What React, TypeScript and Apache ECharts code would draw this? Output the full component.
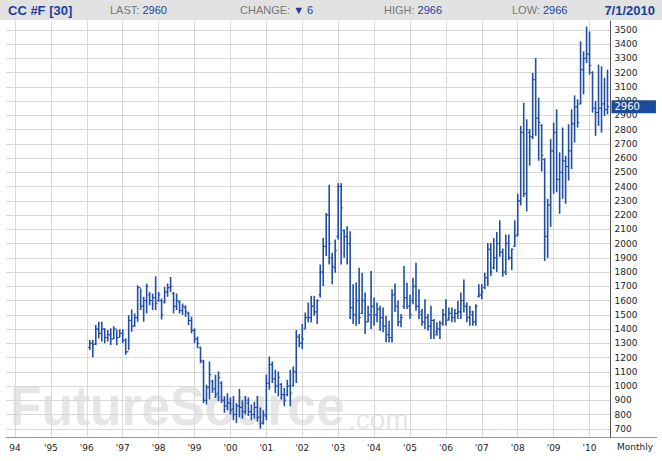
import React, { useEffect, useRef } from 'react';
import * as echarts from 'echarts';

// Monthly OHLC bars, first bar = Feb 1996 (month index counted from Jan 1994)
const firstYear = 1996;
const firstMonth = 2;
const baseYear = 1994;

const highs = [
  1323, 1323, 1428, 1451, 1451, 1405, 1393, 1405, 1420, 1393, 1398,
  1398, 1335, 1497, 1537, 1509, 1707, 1684, 1626, 1719, 1660, 1649, 1770,
  1660, 1614, 1695, 1719, 1765, 1660, 1649, 1602, 1579, 1567, 1521, 1486,
  1405, 1347, 1277, 1184, 1009, 1172, 1044, 1079, 1102, 1033, 928, 950,
  920, 930, 880, 980, 900, 930, 920, 870, 890, 930, 850, 830,
  1080, 1207, 1172, 1114, 1102, 1021, 986, 1044, 1114, 1137, 1393, 1365,
  1435, 1516, 1586, 1633, 1633, 1609, 1853, 2040, 2214, 2412, 1935, 2028,
  2423, 2423, 2098, 2121, 2086, 1714, 1726, 1830, 1795, 1656, 1563, 1807,
  1621, 1586, 1563, 1551, 1493, 1458, 1680, 1720, 1600, 1505, 1842, 1725,
  1643, 1760, 1865, 1679, 1540, 1609, 1505, 1563, 1470, 1447, 1458, 1540,
  1609, 1551, 1551, 1540, 1598, 1656, 1748, 1586, 1563, 1528, 1574, 1714,
  1714, 1795, 2004, 2004, 2039, 2080, 2163, 1965, 2063, 2063, 1965, 2163,
  2349, 2826, 2988, 2872, 2802, 3198, 3302, 3023, 2837, 2598, 2314, 2733,
  2849, 2942, 2640, 2814, 2616, 2837, 2942, 3040, 3012, 3419, 3349, 3523,
  3488, 3209, 3000, 3256, 3244, 3163, 3221,
];
const lows = [
  1254, 1202, 1288, 1335, 1312, 1300, 1312, 1288, 1328, 1288, 1342,
  1300, 1219, 1253, 1381, 1416, 1451, 1533, 1451, 1509, 1567, 1533, 1533,
  1591, 1467, 1579, 1626, 1660, 1509, 1533, 1509, 1498, 1486, 1428, 1370,
  1300, 1265, 1160, 881, 870, 905, 951, 916, 893, 881, 812, 830,
  800, 760, 740, 780, 770, 800, 790, 760, 770, 750, 700, 730,
  760, 974, 1021, 951, 928, 905, 858, 928, 858, 997, 1021, 1272,
  1260, 1400, 1447, 1447, 1493, 1435, 1621, 1702, 1912, 1853, 1714, 1795,
  2028, 1853, 1900, 1853, 1470, 1435, 1423, 1435, 1505, 1365, 1447, 1400,
  1423, 1447, 1388, 1377, 1307, 1307, 1305, 1520, 1420, 1412, 1540, 1540,
  1470, 1574, 1528, 1470, 1423, 1400, 1388, 1330, 1330, 1353, 1330, 1423,
  1423, 1458, 1447, 1447, 1470, 1470, 1516, 1447, 1423, 1423, 1423, 1621,
  1609, 1679, 1702, 1772, 1818, 1800, 1907, 1767, 1779, 1884, 1814, 1977,
  2050, 2267, 2326, 2226, 2547, 2733, 2756, 2581, 2505, 1877, 1900, 2116,
  2349, 2360, 2209, 2314, 2279, 2442, 2523, 2709, 2814, 2977, 3047, 3267,
  3186, 2919, 2756, 2826, 2779, 2895, 2907,
];
const opens = [
  1270, 1300, 1295, 1400, 1370, 1400, 1340, 1360, 1330, 1400, 1340,
  1370, 1320, 1240, 1460, 1420, 1480, 1690, 1560, 1600, 1640, 1600, 1620,
  1600, 1600, 1590, 1660, 1690, 1650, 1560, 1590, 1530, 1550, 1510, 1460,
  1390, 1330, 1270, 1170, 900, 990, 1030, 980, 950, 1020, 900, 860,
  880, 840, 800, 860, 850, 820, 880, 820, 800, 850, 780, 740,
  790, 1020, 1150, 1050, 1000, 1010, 940, 940, 1000, 1000, 1100, 1340,
  1300, 1400, 1480, 1480, 1560, 1520, 1640, 1800, 1980, 2200, 1900, 1830,
  2050, 2400, 2090, 2050, 2000, 1550, 1500, 1600, 1510, 1600, 1450, 1500,
  1560, 1500, 1540, 1480, 1420, 1360, 1340, 1640, 1560, 1450, 1560, 1620,
  1560, 1600, 1700, 1560, 1500, 1450, 1480, 1420, 1460, 1380, 1400, 1440,
  1500, 1470, 1510, 1480, 1510, 1520, 1600, 1560, 1480, 1500, 1450, 1630,
  1640, 1690, 1760, 1960, 1830, 1900, 2000, 1940, 1800, 2000, 1900, 1980,
  2060, 2300, 2780, 2350, 2780, 2750, 3150, 2880, 2830, 2590, 2050, 2270,
  2650, 2780, 2450, 2500, 2580, 2540, 2650, 2840, 2960, 2980, 3220, 3300,
  3330, 3200, 2950, 2920, 2950, 2980, 2940,
];
const closes = [
  1300, 1290, 1400, 1370, 1400, 1340, 1360, 1330, 1400, 1340, 1370,
  1320, 1240, 1460, 1420, 1480, 1690, 1560, 1600, 1700, 1600, 1620, 1580,
  1640, 1500, 1660, 1690, 1700, 1560, 1600, 1530, 1560, 1520, 1460, 1390,
  1330, 1300, 1180, 900, 990, 1080, 980, 940, 1060, 900, 860, 880,
  830, 800, 860, 850, 820, 900, 820, 800, 850, 780, 740, 800,
  1020, 1150, 1050, 1000, 1060, 940, 900, 1000, 950, 1100, 1350, 1300,
  1330, 1480, 1480, 1560, 1520, 1600, 1800, 1980, 2200, 2000, 1840, 1950,
  2400, 2250, 2050, 2000, 1550, 1500, 1600, 1480, 1600, 1450, 1500, 1560,
  1500, 1540, 1480, 1420, 1360, 1340, 1640, 1560, 1450, 1480, 1620, 1560,
  1500, 1700, 1560, 1520, 1450, 1480, 1420, 1460, 1360, 1400, 1440, 1500,
  1460, 1510, 1480, 1510, 1520, 1600, 1560, 1480, 1520, 1450, 1560, 1640,
  1660, 1760, 1960, 1800, 1900, 2000, 1940, 1800, 2000, 1900, 1960, 2050,
  2300, 2780, 2350, 2800, 2750, 3150, 2880, 2850, 2620, 2050, 2270, 2650,
  2780, 2450, 2500, 2580, 2540, 2650, 2840, 2960, 2850, 3220, 3300, 3330,
  3250, 2950, 2920, 2950, 2980, 2940, 2960,
];

const xTickMonths = [0, 12, 24, 36, 48, 60, 72, 84, 96, 108, 120, 132, 144, 156, 168, 180, 192];
const xTickLabels = ['94', "'95", "'96", "'97", "'98", "'99", "'00", "'01", "'02", "'03", "'04", "'05", "'06", "'07", "'08", "'09", "'10"];
const yTicks = [700, 800, 900, 1000, 1100, 1200, 1300, 1400, 1500, 1600, 1700, 1800, 1900, 2000, 2100, 2200, 2300, 2400, 2500, 2600, 2700, 2800, 2900, 3000, 3100, 3200, 3300, 3400, 3500];

const symbolText = 'CC #F [30]';
const lastText = '2960';
const changeText = '6';
const highText = '2966';
const lowText = '2966';
const dateText = '7/1/2010';
const lastPrice = 2960;
const periodText = 'Monthly';

const BLUE = '#1f4ea3';
const DARK_BLUE = '#1a3f9a';
const FONT = '"DejaVu Sans", Verdana, sans-serif';
const HFONT = '"Liberation Sans", Arial, sans-serif';

export default function App() {
  const ref = useRef<HTMLDivElement>(null);
  useEffect(() => {
    const chart = echarts.init(ref.current!, null, { renderer: 'svg' });
    const startIdx = (firstYear - baseYear) * 12 + (firstMonth - 1);
    const data = highs.map((h, i) => [startIdx + i, opens[i], h, lows[i], closes[i]]);

    chart.setOption({
      animation: false,
      grid: { left: 6, right: 51.5, top: 21, bottom: 23.7 },
      xAxis: {
        type: 'value',
        min: -3,
        max: 199,
        axisLine: { show: true, onZero: false, lineStyle: { color: '#9a9a9a', width: 1 } },
        axisTick: { show: false, customValues: xTickMonths },
        axisLabel: {
          customValues: xTickMonths,
          formatter: (v: number) => xTickLabels[xTickMonths.indexOf(v)] ?? '',
          color: '#222',
          fontSize: 9,
          fontFamily: FONT,
          margin: 6,
        },
        splitLine: { show: true, lineStyle: { color: '#d9d9d9', width: 1 } },
      },
      yAxis: {
        type: 'value',
        position: 'right',
        min: 640,
        max: 3562,
        axisLine: { show: true, onZero: false, lineStyle: { color: '#555', width: 1 } },
        axisTick: { show: false, customValues: yTicks },
        axisLabel: {
          customValues: yTicks,
          formatter: (v: number) => String(v),
          color: '#222',
          fontSize: 9,
          fontFamily: FONT,
          margin: 4,
          align: 'left',
        },
        splitLine: { show: true, lineStyle: { color: '#d9d9d9', width: 1 } },
      },
      series: [
        {
          type: 'custom',
          z: 3,
          encode: { x: 0, y: [1, 2, 3, 4] },
          data,
          renderItem: (_params: any, api: any) => {
            const x = api.value(0);
            const top = api.coord([x, api.value(2)]);
            const bot = api.coord([x, api.value(3)]);
            const o = api.coord([x, api.value(1)]);
            const c = api.coord([x, api.value(4)]);
            const px = top[0];
            return {
              type: 'group',
              children: [
                { type: 'line', shape: { x1: px, y1: top[1], x2: px, y2: bot[1] }, style: { stroke: BLUE, lineWidth: 1.6 } },
                { type: 'line', shape: { x1: px - 1.8, y1: o[1], x2: px, y2: o[1] }, style: { stroke: BLUE, lineWidth: 1 } },
                { type: 'line', shape: { x1: px, y1: c[1], x2: px + 1.8, y2: c[1] }, style: { stroke: BLUE, lineWidth: 1 } },
              ],
            };
          },
          markLine: {
            silent: true,
            symbol: 'none',
            lineStyle: { color: 'rgba(0,0,0,0)', width: 0, type: 'solid' },
            label: {
              show: true,
              position: 'end',
              distance: 1,
              formatter: String(lastPrice),
              color: '#ffffff',
              backgroundColor: '#1b4b9b',
              padding: [2, 16, 1, 3],
              fontSize: 10,
              fontFamily: FONT,
            },
            emphasis: { disabled: true },
            data: [{ yAxis: lastPrice }],
          },
        },
      ],
      graphic: {
        elements: [
          { type: 'rect', z: -2, silent: true, shape: { x: 0, y: 0, width: 662, height: 20 }, style: { fill: '#e2e2e2' } },
          {
            type: 'text', z: -1, silent: true, scaleX: 0.92, x: 10, y: 433,
            style: { text: 'FutureSource', font: 'bold 56px "Liberation Sans", Arial, sans-serif', fill: '#e6e6e6', verticalAlign: 'bottom' },
          },
          {
            type: 'text', z: -1, silent: true, x: 348, y: 433,
            style: { text: '.com', font: '28px "Liberation Sans", Arial, sans-serif', fill: '#e6e6e6', verticalAlign: 'bottom' },
          },
          { type: 'text', silent: true, x: 8, y: 10, style: { text: symbolText, font: `bold 13px ${HFONT}`, fill: DARK_BLUE, verticalAlign: 'middle' } },
          {
            type: 'text', silent: true, x: 110, y: 10,
            style: { text: `{l|LAST:} {v|${lastText}}`, font: `11px ${HFONT}`, verticalAlign: 'middle', rich: { l: { fill: '#777', font: `11px ${HFONT}` }, v: { fill: DARK_BLUE, font: `11px ${HFONT}` } } },
          },
          {
            type: 'text', silent: true, x: 240, y: 10,
            style: { text: `{l|CHANGE:} {v|▼ ${changeText}}`, font: `11px ${HFONT}`, verticalAlign: 'middle', rich: { l: { fill: '#777', font: `11px ${HFONT}` }, v: { fill: DARK_BLUE, font: `11px ${HFONT}` } } },
          },
          {
            type: 'text', silent: true, x: 384, y: 10,
            style: { text: `{l|HIGH:} {v|${highText}}`, font: `11px ${HFONT}`, verticalAlign: 'middle', rich: { l: { fill: '#777', font: `11px ${HFONT}` }, v: { fill: DARK_BLUE, font: `11px ${HFONT}` } } },
          },
          {
            type: 'text', silent: true, x: 512, y: 10,
            style: { text: `{l|LOW:} {v|${lowText}}`, font: `11px ${HFONT}`, verticalAlign: 'middle', rich: { l: { fill: '#777', font: `11px ${HFONT}` }, v: { fill: DARK_BLUE, font: `11px ${HFONT}` } } },
          },
          { type: 'text', silent: true, x: 655, y: 10, style: { text: dateText, font: `bold 13px ${HFONT}`, fill: DARK_BLUE, align: 'right', verticalAlign: 'middle' } },
          { type: 'line', silent: true, shape: { x1: 610, y1: 437.5, x2: 657, y2: 437.5 }, style: { stroke: '#9a9a9a', lineWidth: 1 } },
          { type: 'text', silent: true, x: 617, y: 447, style: { text: periodText, font: `9px ${FONT}`, fill: '#222', verticalAlign: 'middle' } },
        ],
      },
    });
    return () => chart.dispose();
  }, []);
  return <div ref={ref} style={{ position: 'fixed', left: 0, top: 0, width: 662, height: 461, background: '#fff' }} />;
}
